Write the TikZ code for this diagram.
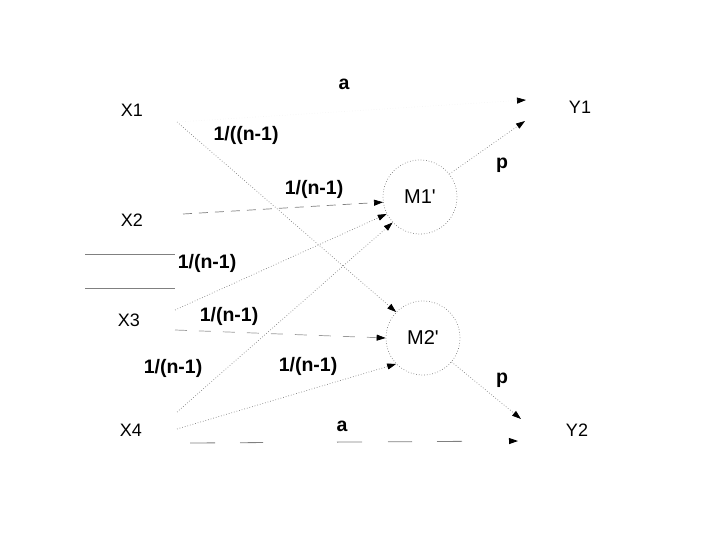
\documentclass[tikz,border=0pt]{standalone}
\usepackage{fontspec}
\setmainfont{Liberation Sans}
\usetikzlibrary{arrows.meta}

\begin{document}
\begin{tikzpicture}[x=1pt,y=-1pt,
    varname/.style={font=\fontsize{18}{20}\selectfont},
    lbl/.style={font=\bfseries\fontsize{19.5}{22}\selectfont},
    neuron/.style={circle, draw=gray, dotted, line width=0.7pt, minimum size=74pt, inner sep=0pt, font=\fontsize{20}{22}\selectfont},
    arrowtip/.style={-{Triangle[length=9pt,width=6pt,color=black]}},
    link/.style={arrowtip, gray, dotted, line width=0.7pt},
    dlink/.style={arrowtip, gray, dash pattern=on 9pt off 7pt, line width=0.7pt}]
    \useasboundingbox (0,0) rectangle (720,540);

    % Inputs
    \node[varname] (x1) at (132,110) {X1};
    \node[varname] (x2) at (132,220) {X2};
    \node[varname] (x3) at (129,320) {X3};
    \node[varname] (x4) at (131,430) {X4};
    \coordinate (x1o) at (177,122);
    \coordinate (x2o) at (183,214);
    \coordinate (x3a) at (175,310);
    \coordinate (x3b) at (175,330);
    \coordinate (x4a) at (177,412);
    \coordinate (x4b) at (177,429);
    \coordinate (x4c) at (190,443);

    % Hidden units
    \node[neuron] (m1) at (420,197) {M1\textquotesingle};
    \node[neuron] (m2) at (423,338) {M2\textquotesingle};

    % Outputs
    \node[varname] (y1) at (580,107) {Y1};
    \node[varname] (y2) at (577,430) {Y2};
    \coordinate (y1a) at (526,100);
    \coordinate (y1b) at (525,121);
    \coordinate (y2a) at (521,419);
    \coordinate (y2b) at (518,441);

    % Stray lines on the left
    \draw[gray] (85,254) -- (175,254);
    \draw[gray] (85,288) -- (175,288);

    % Weights into M1' and M2'
    \draw[link] (x1o) -- (m2.136);
    \draw[dlink] (x2o) -- (m1.188);
    \draw[link] (x3a) -- (m1.207);
    \draw[arrowtip, gray!80, dash pattern=on 12pt off 12pt, line width=0.7pt] (x3b) -- (m2.180);
    \draw[link] (x4a) -- (m1.223);
    \draw[link] (x4b) -- (m2.224);

    % Outputs p
    \draw[link] (m1.38) -- (y1b);
    \draw[link] (m2.320) -- (y2a);

    % Direct paths a
    \draw[arrowtip, gray!8, dotted, line width=0.7pt] (x1o) -- (y1a);
    \draw[arrowtip, gray, line width=0.8pt,
      dash pattern=on 25pt off 25pt on 23pt off 74pt on 25pt off 26pt on 24pt off 25pt on 25pt off 80pt] (x4c) -- (y2b);

    % Labels
    \node[lbl] (la1) at (344,84) {a};
    \node[lbl] (w1) at (246,135) {1/((n-1)};
    \node[lbl] (w2) at (314,189) {1/(n-1)};
    \node[lbl] (w3) at (207,263) {1/(n-1)};
    \node[lbl] (w4) at (229,316) {1/(n-1)};
    \node[lbl] (w5) at (173,368) {1/(n-1)};
    \node[lbl] (w6) at (308,366) {1/(n-1)};
    \node[lbl] (la2) at (342,426) {a};
    \node[lbl] (p1) at (502,165) {p};
    \node[lbl] (p2) at (502,380) {p};
\end{tikzpicture}
\end{document}
